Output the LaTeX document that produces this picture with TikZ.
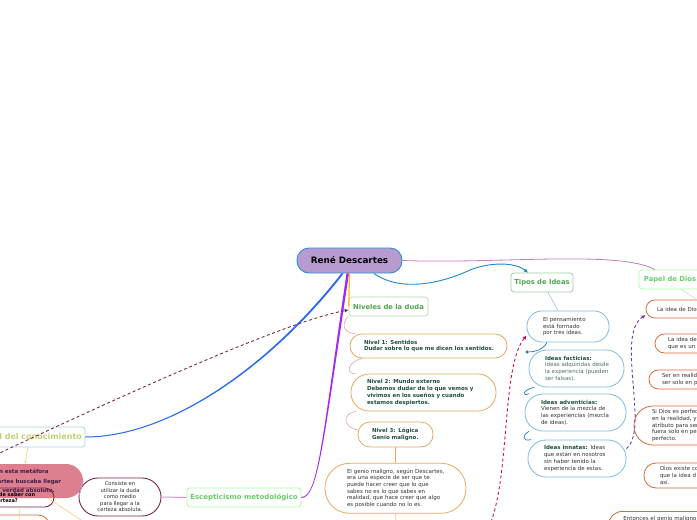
\documentclass[tikz,border=0pt]{standalone}
\usepackage{fontspec}
\setmainfont{DejaVu Sans}
\usetikzlibrary{arrows.meta}
\definecolor{orangeb}{HTML}{E8A862}
\definecolor{blueb}{HTML}{7CBCE4}
\definecolor{redo}{HTML}{D9683A}
\definecolor{maroon}{HTML}{7A2A40}
\definecolor{tealt}{HTML}{1F4F3F}
\definecolor{greyt}{HTML}{333333}
\definecolor{gdark}{HTML}{4FA64F}
\definecolor{glight}{HTML}{66D066}
\definecolor{pinkl}{HTML}{E8A0B0}
\definecolor{linkb}{HTML}{1F78C4}
\definecolor{mainb}{HTML}{2A68F0}
\definecolor{mainp}{HTML}{A428F4}
\definecolor{crim}{HTML}{D0104A}
\definecolor{dashv}{HTML}{6A3AB0}
\definecolor{yel}{HTML}{F2D080}
\newcommand{\oneline}[1]{\mbox{#1}}
\tikzset{
  x=1pt,y=-1pt,
  pill/.style={rectangle,draw,line width=.8pt,inner ysep=0pt,text=greyt,align=left,
    font=\fontsize{5.5}{6.7}\selectfont},
  tag/.style={draw,rounded corners=3pt,line width=.7pt,inner sep=0pt,fill=white,
    font=\fontsize{6.8}{9}\bfseries\selectfont},
  dashlink/.style={dash pattern=on 3pt off 2.6pt,line width=.9pt,-{Latex[length=4pt,width=4pt]}},
  orangepill/.style={pill,draw=orangeb,text=tealt,font=\fontsize{5.5}{6.7}\bfseries\selectfont},
  bluepill/.style={pill,draw=blueb},
  redpill/.style={pill,draw=redo},
  pinklink/.style={pinkl,line width=.6pt},
  bluelink/.style={linkb,line width=.7pt},
}
\begin{document}
\begin{tikzpicture}
\useasboundingbox (0,0) rectangle (697,520);
\clip (0,0) rectangle (697,520);
\fill[white] (0,0) rectangle (697,520);

% nodes
\node[rectangle,rounded corners=12pt,draw={rgb,255:red,46;green,143;blue,208},line width=.9pt,fill={rgb,255:red,183;green,155;blue,208},
  minimum width=105pt,minimum height=25pt,inner sep=0pt,font=\fontsize{8.8}{11}\bfseries\selectfont] (root) at (349.5,260.5) {René Descartes};
\node[tag,draw=green!50!black!30,text=gdark,minimum width=79pt,minimum height=19pt] (niveles) at (388.5,306.5) {Niveles de la duda};
\node[orangepill,rounded corners=11.9pt,minimum width=157pt,minimum height=24pt,text width=129pt,inner xsep=14pt] (n1) at (428.5,346) {Nivel 1: Sentidos\\\oneline{Dudar sobre lo que me dicen los sentidos.}};
\node[orangepill,rounded corners=18pt,minimum width=145pt,minimum height=37pt,text width=113pt,inner xsep=16pt] (n2) at (423.5,392.5) {Nivel 2: Mundo externo\\\oneline{Debemos dudar de lo que vemos y}\\\oneline{vivimos en los sueños y cuando}\\estamos despiertos.};
\node[orangepill,rounded corners=12pt,minimum width=75pt,minimum height=25pt,text width=47pt,inner xsep=14pt] (n3) at (395.5,434.5) {\oneline{Nivel 3: Lógica}\\\oneline{Genio maligno.}};
\node[pill,draw=orangeb,rounded corners=24.5pt,minimum width=141pt,minimum height=50pt,text width=97pt,inner xsep=22pt] (genio) at (395.5,488.3) {\oneline{El genio maligno, según Descartes,}\\\oneline{era una especie de ser que te}\\\oneline{puede hacer creer que lo que}\\\oneline{sabes no es lo que sabes en}\\\oneline{realidad, que hace creer que algo}\\\oneline{es posible cuando no lo es.}};
\node[tag,draw=green!50!black!40,text=gdark,minimum width=62pt,minimum height=19pt] (tipos) at (542,282.5) {Tipos de Ideas};
\node[bluepill,rounded corners=15pt,minimum width=82pt,minimum height=31pt,text width=50pt,inner xsep=16pt] (pens) at (568,326.5) {\oneline{El pensamiento}\\\oneline{está formado}\\\oneline{por tres ideas.}};
\node[bluepill,rounded corners=18pt,minimum width=95pt,minimum height=37pt,text width=63pt,inner xsep=16pt] (fact) at (576.5,368.5) {\oneline{\textbf{\textcolor{tealt}{Ideas facticias:}}}\\\oneline{\textcolor{tealt!80}{Ideas adquiridas desde}}\\\oneline{\textcolor{tealt!80}{la experiencia (pueden}}\\\oneline{\textcolor{tealt!80}{ser falsas).}}};
\node[bluepill,rounded corners=18pt,minimum width=101pt,minimum height=37pt,text width=69pt,inner xsep=16pt] (adv) at (575.5,412.5) {\oneline{\textbf{\textcolor{tealt}{Ideas adventicias:}}}\\\oneline{Vienen de la mezcla de}\\\oneline{las experiencias (mezcla}\\\oneline{de ideas).}};
\node[bluepill,rounded corners=18pt,minimum width=98pt,minimum height=37pt,text width=66pt,inner xsep=16pt] (inn) at (577,458.5) {\oneline{\textbf{\textcolor{tealt}{Ideas innatas:}} Ideas}\\\oneline{que están en nosotros}\\\oneline{sin haber tenido la}\\\oneline{experiencia de estas.}};
\node[tag,draw=green!35,text=glight,minimum width=62pt,minimum height=19pt] (dios) at (670,279.5) {Papel de Dios};
\node[redpill,rounded corners=8.9pt,minimum width=100pt,minimum height=18pt,text width=78pt,inner xsep=11pt] (d1) at (696,309) {La idea de Dios};
\node[redpill,rounded corners=9.4pt,minimum width=100pt,minimum height=19pt,text width=74pt,inner xsep=13pt] (d2) at (705,343.5) {La idea de\\que es un};
\node[redpill,rounded corners=9.4pt,minimum width=100pt,minimum height=19pt,text width=74pt,inner xsep=13pt] (d3) at (699,379.5) {Ser en realid\\ser solo en p};
\node[redpill,rounded corners=19pt,minimum width=130pt,minimum height=39pt,text width=94pt,inner xsep=18pt] (d4) at (699,425.5) {Si Dios es perfec\\en la realidad, y\\atributo para ser\\fuera solo en pe\\perfecto.};
\node[redpill,rounded corners=12pt,minimum width=110pt,minimum height=25pt,text width=78pt,inner xsep=16pt] (d5) at (699,475.5) {Dios existe co\\que la idea d\\así.};
\node[redpill,rounded corners=14pt,minimum width=200pt,minimum height=40pt,anchor=north west,text width=170pt,inner xsep=15pt,text depth=27pt,text height=6pt] (ent) at (608,511) {Entonces el genio maligno};
\node[tag,draw=green!40!blue!30,text={rgb,255:red,196;green,208;blue,120},minimum width=111pt,minimum height=20pt,font=\fontsize{8}{10}\bfseries\selectfont] (con) at (29.5,437) {Papel del conocimiento};
\node[tag,draw=green!35,text=glight,minimum width=114pt,minimum height=19pt,font=\fontsize{7}{9}\bfseries\selectfont] (esc) at (244,497.5) {Escepticismo metodológico};
\node[rectangle,rounded corners=16.9pt,fill={rgb,255:red,220;green,128;blue,144},minimum width=122pt,minimum height=34pt,inner sep=0pt,text={rgb,255:red,70;green,25;blue,70},
  font=\fontsize{5.5}{9.5}\bfseries\selectfont,align=center] (met) at (22,481) {En esta metáfora\\Descartes buscaba llegar\\a la verdad absoluta.};
\node[pill,draw=maroon,rounded corners=9.4pt,line width=.9pt,text=black,minimum width=96pt,minimum height=19pt,align=center,font=\fontsize{5}{6.6}\bfseries\selectfont,inner xsep=0pt] (saber) at (6,497.5) {¿Se puede saber con\\certeza?};
\node[pill,draw=maroon,line width=.9pt,rounded corners=18.9pt,text={rgb,255:red,40;green,40;blue,40},minimum width=82pt,minimum height=38pt,text width=62pt,inner xsep=10pt,align=center,font=\fontsize{5.2}{6.5}\selectfont] (cons) at (120,497) {Consiste en\\utilizar la duda\\como medio\\para llegar a la\\certeza absoluta.};
\node[redpill,rounded corners=12pt,minimum width=100pt,minimum height=24pt] (low) at (0,527) {};
\coordinate (dashfree) at (-30,467);
\coordinate (crimfree) at (491,522);
\coordinate (yelfree) at (84,522);
\coordinate (ofree) at (19,522);
\coordinate (gfree) at (396,522);

% connectors
\fill[mainb] ([yshift=.5pt]con.east) .. controls (170,436.5) and (270,365) .. (root.south -| 341.3,0) -- (root.south -| 343.7,0) .. controls (272,366) and (170,437.5) .. ([yshift=-.5pt]con.east) -- cycle;
\fill[mainp] ([yshift=.5pt]esc.east) .. controls (318,497) and (322,440) .. (root.south -| 346.5,0) -- (root.south -| 349,0) .. controls (323.5,440) and (318.5,498) .. ([yshift=-.5pt]esc.east) -- cycle;
\draw[orange!60!yellow!90!white,line width=1.2pt] (root.south -| 349.5,0) -- (niveles.west);
\draw[linkb!90!cyan,line width=.9pt,-{Latex[length=4pt,width=4pt]}] (root.south -| 374,0) .. controls (400,292) and (440,284) .. (470,270) .. controls (490,262) and (515,262) .. (tipos.north -| 528,0);
\draw[violet!50,line width=.8pt] (root.east) .. controls (500,264) and (620,250) .. (dios.north -| 655,0);
\draw[maroon,dashlink] (dashfree) .. controls (80,415) and (280,322) .. ([yshift=-3.5pt]niveles.west);
\draw[crim,dashlink] (crimfree) .. controls (510,470) and (502,365) .. ([yshift=-9pt]pens.west);
\draw[dashv,dashlink] ([yshift=10pt]inn.east) .. controls (650,430) and (615,335) .. ([yshift=-6pt]d1.west);
\draw[blueb,line width=.5pt] (tipos.south -| 548,0) -- (pens.north -| 558,0);
\draw[brown!40,line width=.5pt] (dios.south -| 681,0) -- (d1.north -| 697,0);
\draw[pinklink] (niveles.south -| 348,0) .. controls (340,326) and (345,333) .. (n1.north -| 355,0);
\draw[pinklink] (n1.south -| 362,0) .. controls (345,363) and (347,375) .. (n2.north -| 356,0);
\draw[pinklink] (n2.south -| 356,0) .. controls (340,414) and (345,428) .. (n3.west |- 0,430);
\draw[orangeb,line width=.5pt,-{Latex[length=2pt,width=2pt]}] (n3.south) -- (genio.north);
\draw[orangeb!60,line width=.8pt] (genio.south) -- (gfree);
\draw[bluelink,-{Latex[length=3pt,width=4pt]}] (pens.south -| 547,0) .. controls (543,350) and (535,352) .. (525,352);
\draw[bluelink] (fact.south -| 534,0) .. controls (522,390) and (522,397) .. (adv.north -| 529,0);
\draw[bluelink] (adv.south -| 529,0) .. controls (522,435) and (522,442) .. (inn.north -| 531,0);
\draw[violet!40,line width=1pt] (cons.east) -- (esc.west);
\draw[violet!40,line width=1pt] (met.east) -- (cons.west);
\draw[yel,line width=.6pt,-{Latex[length=2pt,width=2pt]}] (con.south -| 28,0) -- (met.north -| 25,0);
\draw[yel,line width=.6pt] (met.south -| 48,0) -- (yelfree);
\draw[yel,line width=.6pt] (saber.south -| 20,0) -- (ofree);
\end{tikzpicture}
\end{document}
